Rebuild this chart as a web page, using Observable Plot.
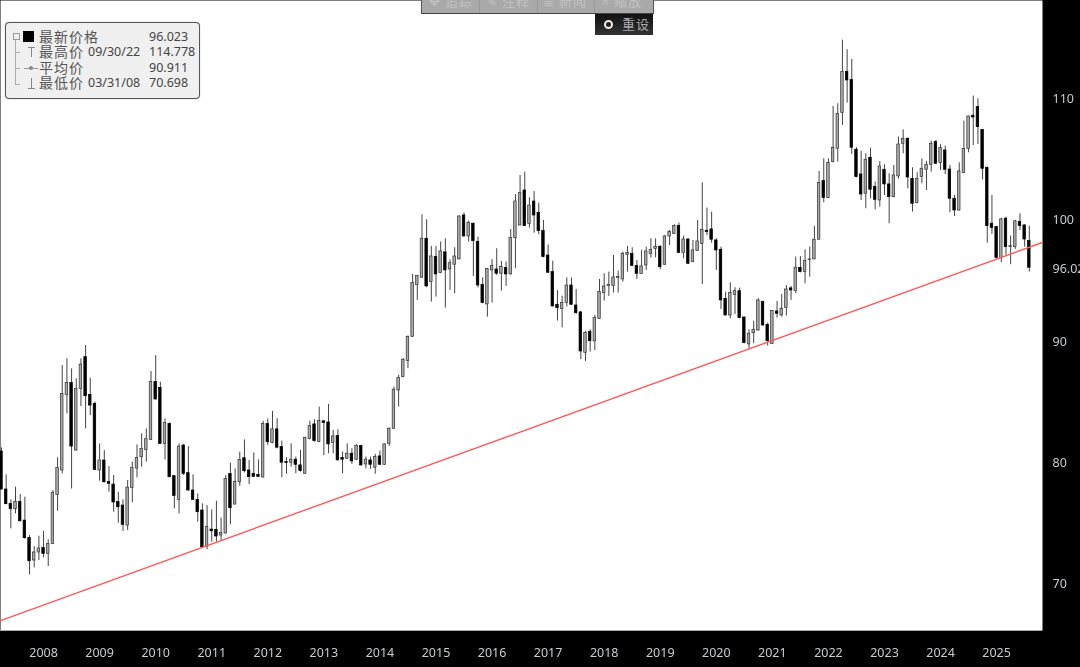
<!DOCTYPE html>
<html><head><meta charset="utf-8">
<script src="https://cdn.jsdelivr.net/npm/d3@7"></script>
<script src="https://cdn.jsdelivr.net/npm/@observablehq/plot@0.6"></script>
<style>
html,body{margin:0;padding:0;background:#000;width:1080px;height:667px;overflow:hidden}
#wrap{position:relative;width:1080px;height:667px;overflow:hidden;font-family:"Noto Sans","Noto Sans CJK SC",sans-serif}
#wrap svg{display:block;position:absolute;left:0;top:0;filter:blur(.4px)}
.a{position:absolute;white-space:nowrap}
#legend{left:5px;top:22px;width:193px;height:75px;background:#f0f0f0;border:1px solid #555;border-radius:4px;box-shadow:0 0 1px #777}
#legend .t{position:absolute;color:#444;font-size:12.5px;line-height:15px;font-family:"Noto Sans","Noto Sans CJK SC",sans-serif}
#legend .n{font-size:14px;font-family:"Noto Sans CJK SC",sans-serif;letter-spacing:1px;color:#555}
#tools{left:421px;top:-6px;width:231px;height:19px;background:#a9a9a9;border-bottom:1px solid #444;border-left:1px solid #555;border-right:1px solid #555;color:#c2c2c2;font:13px "Noto Sans CJK SC",sans-serif;line-height:13px}
#tools span{position:absolute;top:0;white-space:nowrap;letter-spacing:1px}
#tools i{position:absolute;top:0;bottom:0;width:1px;background:#999}
#reset{left:595px;top:14px;width:58px;height:21px;background:linear-gradient(#111,#333);color:#aaa;font:13px "Noto Sans CJK SC",sans-serif;line-height:20px}
</style></head>
<body><div id="wrap"></div>
<script>
const open=[80.87,77.74,76.56,76.12,76.72,75.18,73.76,71.89,72.55,72.93,72.44,73.26,77.3,79.31,85.54,86.53,80.95,86.04,88.65,85.54,84.8,79.31,80.13,78.37,78.15,76.7,76.42,74.77,77.88,79.47,80.4,81.01,81.83,86.61,86.12,81.5,83.15,78.84,76.89,81.37,79.09,77.66,76.89,76.01,73.04,74.44,74.42,73.95,74.11,79.03,76.5,78.34,80.32,79.31,79.03,78.95,78.73,83.15,81.57,82.7,81.24,80.0,79.95,80.2,79.73,79.04,81.9,83.11,81.65,83.36,83.27,81.57,82.15,80.33,80.28,80.69,80.2,81.32,79.81,80.14,79.54,80.47,79.78,81.51,82.75,85.91,87.01,88.33,90.33,94.59,95.2,98.41,94.84,96.9,95.58,97.29,95.88,96.27,96.71,100.33,98.6,99.65,98.14,94.59,93.0,95.8,95.88,95.53,95.99,95.47,98.46,99.5,102.39,99.64,101.48,100.55,99.04,97.03,95.66,92.97,92.61,93.11,94.56,92.91,92.34,89.01,90.72,89.95,91.81,93.93,94.53,94.51,95.19,95.06,97.09,97.17,96.16,95.52,96.21,97.17,97.56,97.72,96.27,98.6,98.82,99.45,97.25,98.35,96.49,97.39,97.99,99.07,99.18,98.27,97.5,93.46,92.09,93.79,94.09,91.92,89.7,90.63,90.85,93.19,91.32,89.75,92.42,92.09,92.72,94.32,94.1,95.99,95.66,96.65,96.71,98.33,103.16,101.76,104.73,105.83,108.79,112.17,111.51,105.75,103.71,102.12,105.09,102.67,101.57,104.1,102.89,101.84,103.55,106.24,106.65,103.35,101.35,103.49,104.1,104.51,106.38,104.65,105.69,104.12,101.71,100.74,103.82,105.83,108.55,109.26,107.39,104.26,99.65,99.37,96.82,100.06,97.72,97.72,99.81,99.51,98.22];
const high=[81.17,78.95,76.89,77.93,77.33,77.11,73.95,73.04,73.89,74.3,73.59,77.66,80.35,87.96,88.51,87.68,86.86,88.51,89.61,86.92,84.94,81.5,80.95,79.64,78.89,77.52,76.89,78.48,79.99,81.42,82.33,82.74,87.47,88.78,86.59,83.56,83.23,78.89,81.5,81.45,81.28,78.95,77.38,76.56,76.42,76.06,76.78,75.38,78.89,79.91,79.44,80.82,81.83,80.13,80.76,80.18,83.37,83.56,84.18,83.58,81.73,80.36,81.51,80.42,80.97,82.06,83.38,83.49,84.54,83.44,84.76,82.61,82.67,80.83,81.51,81.1,81.43,81.38,80.42,80.42,80.64,80.91,81.51,82.81,86.19,87.15,88.52,90.39,95.47,95.39,100.39,99.98,97.78,97.78,98.14,98.41,96.68,97.67,100.28,100.53,99.87,99.7,98.55,95.2,95.97,96.68,97.59,96.54,96.49,99.18,102.06,103.63,103.9,101.79,102.31,101.35,99.92,97.91,96.57,94.15,93.68,95.19,95.17,94.23,92.42,90.77,90.91,92.09,95.06,95.52,95.66,97.03,95.74,97.31,97.78,97.67,96.62,97.45,97.72,98.41,98.41,97.86,98.68,99.09,99.56,99.7,98.63,98.41,98.27,99.92,103.02,100.94,100.6,98.41,97.72,94.01,94.78,94.37,94.34,91.95,90.91,91.62,93.46,93.27,91.46,92.5,93.24,93.82,94.56,94.48,96.9,96.95,97.5,97.72,99.43,103.96,105.0,105.0,109.32,109.54,114.78,113.99,113.19,105.91,105.63,105.42,105.88,103.08,104.78,104.51,103.77,104.45,106.79,107.39,106.73,104.26,103.85,105.0,104.78,106.46,106.51,106.16,106.05,104.45,101.98,104.67,108.11,108.52,110.17,109.95,107.42,104.32,101.98,99.43,100.11,100.2,98.63,99.92,100.47,99.56,99.45];
const low=[77.7,76.5,74.5,75.73,75.05,73.65,70.7,71.28,71.89,72.11,71.39,73.21,75.95,79.03,83.98,77.79,80.95,84.58,82.74,83.84,79.31,78.43,78.29,77.52,75.87,74.97,74.28,74.36,76.64,78.7,79.58,80.0,81.78,85.13,81.5,80.18,78.7,76.15,75.73,78.89,77.6,76.83,75.05,72.93,72.77,73.4,73.4,73.54,74.09,74.83,76.5,78.01,79.11,78.15,78.76,78.76,78.7,81.37,81.51,81.1,78.71,79.0,79.59,79.04,79.18,79.0,81.84,81.65,81.6,80.55,80.69,80.69,80.09,79.04,80.22,79.81,80.14,79.67,79.45,79.4,79.0,79.73,79.73,81.3,82.72,84.54,86.95,87.7,90.28,93.33,95.14,94.37,93.19,93.6,95.53,92.69,94.15,93.88,96.68,98.55,98.14,95.31,94.37,93.05,91.95,93.11,95.39,94.1,94.48,95.42,95.94,99.5,99.42,99.29,98.87,98.74,96.84,95.55,92.78,91.62,91.07,92.78,92.91,92.17,88.44,88.3,89.07,89.2,91.76,93.27,93.66,93.93,93.93,94.84,95.66,96.13,95.06,95.47,95.8,96.81,96.84,95.85,96.21,97.86,98.77,97.2,96.76,96.29,96.43,97.36,94.64,98.68,98.05,95.8,92.58,92.03,91.81,92.17,91.81,89.75,89.29,89.75,90.8,91.21,89.56,89.7,91.87,91.95,92.04,93.33,93.88,95.6,94.7,95.25,96.68,98.33,101.38,101.71,104.67,104.73,107.75,109.59,105.36,103.44,101.57,100.88,101.71,100.8,101.02,101.98,99.65,101.79,103.35,105.42,102.53,100.61,101.29,102.94,102.39,103.9,104.54,104.04,103.71,100.55,100.25,100.69,103.77,105.5,106.1,106.18,103.27,98.05,98.77,96.76,96.43,97.04,96.27,97.53,99.09,97.72,95.66];
const close=[77.74,76.53,76.12,76.72,75.13,73.73,71.83,72.55,72.88,72.44,73.26,77.47,79.53,85.62,86.53,81.28,86.04,88.04,85.43,84.66,79.36,80.13,78.34,78.21,76.67,76.28,74.83,77.9,79.5,80.35,81.09,81.89,86.61,85.16,81.5,83.23,78.76,77.22,81.28,79.03,77.66,76.89,75.87,72.99,74.64,74.3,73.87,74.17,78.62,76.2,78.37,80.18,79.25,78.76,78.78,78.78,83.15,81.64,82.7,81.19,79.95,79.92,80.2,79.78,79.26,82.0,82.99,81.73,83.38,83.22,81.46,82.12,80.14,80.2,80.69,80.06,81.35,79.73,80.2,79.78,80.42,79.78,81.46,82.75,85.97,86.93,88.44,90.33,94.78,95.33,98.41,94.48,96.95,95.47,97.37,95.8,96.4,96.95,100.25,98.6,99.73,98.22,94.56,93.11,95.91,96.16,95.53,96.08,95.47,98.47,101.48,102.2,99.45,101.15,100.33,99.04,96.9,95.61,92.83,92.69,93.13,94.56,92.97,92.28,89.12,90.66,89.97,91.87,94.01,94.48,94.62,95.22,95.25,97.17,97.25,96.16,95.52,96.13,97.36,97.5,97.75,96.07,98.6,98.96,99.45,97.25,98.35,96.35,97.45,98.19,99.15,98.96,98.33,97.45,93.33,92.09,93.93,94.09,91.87,89.81,90.58,90.91,93.33,91.26,89.97,92.45,92.23,92.64,94.23,94.15,96.02,95.66,96.57,96.71,98.33,103.02,101.76,104.67,105.91,108.71,112.17,111.46,105.91,103.49,102.06,104.92,102.45,101.62,104.37,102.89,101.84,103.63,106.18,106.65,103.46,101.29,103.35,104.18,104.51,106.24,104.59,105.88,104.1,101.71,100.74,103.96,105.8,108.49,108.41,107.61,104.18,99.45,99.29,96.82,100.0,97.72,97.8,99.84,99.45,98.35,96.023];
const yearLabels=[2008,2009,2010,2011,2012,2013,2014,2015,2016,2017,2018,2019,2020,2021,2022,2023,2024,2025];
const priceTicks=[70,80,90,96.02,100,110];
const trendIndex=[-0.2,222.8];
const trendValue=[66.94,98.1];
const legendRows=[["最新价格","","96.023"],["最高价","09/30/22","114.778"],["平均价","","90.911"],["最低价","03/31/08","70.698"]];

const firstYearIndex=9; // the year label sits over June of its year; index 0 is September 2007
const candles=open.map((o,i)=>({i,o,h:high[i],l:low[i],c:close[i],up:close[i]>=o}));
const yearTicks=yearLabels.map((_,k)=>firstYearIndex+12*k);
const trend=trendIndex.map((x,k)=>({x,y:trendValue[k]}));
const bw=.27;

const chart=Plot.plot({
  width:1080,height:667,marginLeft:0,marginRight:38,marginTop:0,marginBottom:37,
  style:{background:"#000",fontFamily:'"Noto Sans",sans-serif',fontSize:"12.5px"},
  x:{type:"linear",domain:[-0.214,222.82],axis:null},
  y:{domain:[66.12,118.05],axis:null},
  marks:[
    Plot.frame({fill:"#fff",stroke:null}),
    Plot.ruleX(candles,{x:"i",y1:"l",y2:"h",stroke:"#444",strokeWidth:1}),
    Plot.rect(candles.filter(d=>d.up),{x1:d=>d.i-bw,x2:d=>d.i+bw,y1:"o",y2:"c",fill:"#a8a8a8",stroke:"#333",strokeWidth:.7}),
    Plot.rect(candles.filter(d=>!d.up),{x1:d=>d.i-bw,x2:d=>d.i+bw,y1:"o",y2:"c",fill:"#000",stroke:"#000",strokeWidth:.7}),
    Plot.line(trend,{x:"x",y:"y",stroke:"#ff5a5a",strokeWidth:1.4}),
    Plot.ruleY([66.12],{stroke:"#aaa",strokeWidth:1}),
    Plot.axisX({ticks:yearTicks,tickFormat:(d,k)=>String(yearLabels[k]),tickSize:0,tickPadding:18,color:"#c8ccd0",anchor:"bottom",label:null}),
    Plot.axisY({ticks:priceTicks,tickFormat:d=>String(d),anchor:"right",tickSize:0,tickPadding:10,textAnchor:"start",color:"#c8ccd0",label:null,dy:1})
  ]
});
const wrap=document.getElementById("wrap");
wrap.appendChild(chart);

const tools=document.createElement("div");tools.className="a";tools.id="tools";
tools.innerHTML=[["✥ 追踪",7],["✎ 注释",64],["≣ 新闻",121],["⌕ 缩放",180]].map(([t,x])=>`<span style="left:${x}px">${t}</span>`).join("")+[57,115,172].map(x=>`<i style="left:${x}px"></i>`).join("");
wrap.appendChild(tools);
const reset=document.createElement("div");reset.className="a";reset.id="reset";
reset.innerHTML='<span style="position:absolute;left:9px;top:6px;width:5px;height:5px;border:2px solid #eee;border-radius:50%"></span><span style="position:absolute;left:27px;top:0;letter-spacing:1px">重设</span>';
wrap.appendChild(reset);

const lg=document.createElement("div");lg.className="a";lg.id="legend";
let h='<span style="position:absolute;left:9px;top:11px;width:1px;height:51px;background:#aaa"></span><span style="position:absolute;left:9px;top:61px;width:5px;height:1px;background:#aaa"></span>'
 +'<span style="position:absolute;left:7px;top:10px;width:5px;height:5px;border:1px solid #999;background:#f0f0f0"></span>'
 +'<span style="position:absolute;left:17px;top:8px;width:11px;height:11px;background:#000"></span>'
 +'<span style="position:absolute;left:9px;top:29px;width:5px;height:1px;background:#aaa"></span><span style="position:absolute;left:9px;top:45px;width:5px;height:1px;background:#aaa"></span>'
 +'<span style="position:absolute;left:25px;top:24px;width:1px;height:10px;background:#888"></span><span style="position:absolute;left:22px;top:24px;width:7px;height:1px;background:#888"></span>'
 +'<span style="position:absolute;left:18px;top:45px;width:14px;height:1px;background:#999"></span><span style="position:absolute;left:23px;top:43px;width:4px;height:4px;background:#888;border-radius:50%"></span>'
 +'<span style="position:absolute;left:25px;top:55px;width:1px;height:10px;background:#888"></span><span style="position:absolute;left:22px;top:65px;width:7px;height:1px;background:#888"></span>';
legendRows.forEach((r,k)=>{const top=5.5+k*15.5;
  h+=`<span class="t n" style="left:33px;top:${top}px">${r[0]}</span><span class="t" style="left:82px;top:${top}px">${r[1]}</span><span class="t" style="left:143px;top:${top}px">${r[2]}</span>`;});
lg.innerHTML=h;wrap.appendChild(lg);
</script></body></html>
